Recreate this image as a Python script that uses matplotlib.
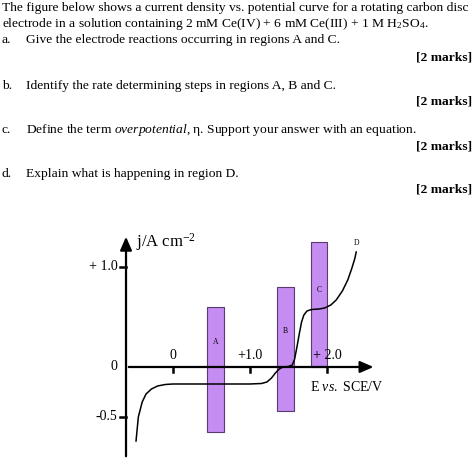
import matplotlib
matplotlib.use("Agg")
import matplotlib.pyplot as plt

plt.rcParams['font.family'] = ['Liberation Serif', 'DejaVu Serif']
plt.rcParams['mathtext.fontset'] = 'custom'
plt.rcParams['mathtext.rm'] = 'Liberation Serif'
plt.rcParams['mathtext.it'] = 'Liberation Serif:italic'
plt.rcParams['mathtext.bf'] = 'Liberation Serif:bold'

curve_E = [-0.48,-0.45,-0.40,-0.35,-0.28,-0.2,-0.1,0,0.5,1.0,1.15,1.22,1.28,1.33,1.38,1.43,1.5,1.55,1.58,1.61,1.64,1.67,1.70,1.74,1.80,1.9,1.97,2.05,2.12,2.2,2.27,2.32,2.36,2.38]
curve_j = [-0.74,-0.50,-0.35,-0.27,-0.22,-0.19,-0.175,-0.17,-0.17,-0.17,-0.165,-0.15,-0.11,-0.06,-0.02,0.0,0.005,0.02,0.08,0.2,0.33,0.45,0.52,0.56,0.575,0.58,0.59,0.62,0.67,0.76,0.87,0.98,1.08,1.15]
bar_labels = ['A', 'B', 'C']
bar_left = [0.44, 1.35, 1.79]
bar_right = [0.66, 1.57, 2.00]
bar_bottom = [-0.65, -0.44, 0.0]
bar_top = [0.60, 0.80, 1.25]
bar_label_y = [0.25, 0.36, 0.77]
xticks = [0, 1.0, 2.0]
xticklabels = ['0', '+1.0', '+ 2.0']
yticks = [1.0, -0.5]
yticklabels = ['+ 1.0', '-0.5']

fig = plt.figure(figsize=(4.74, 4.62), dpi=100)

lines = [
    (8, "The figure below shows a current density vs. potential curve for a rotating carbon disc"),
    (24, "electrode in a solution containing 2 mM Ce(IV) + 6 mM Ce(III) + 1 M H$_2$SO$_4$."),
]
def ty(p): return 1 - p / 462
fs = 9.7
for y, t in lines:
    fig.text(0.004, ty(y), t, fontsize=fs, va='center')
items = [
    (40, 'a.', "Give the electrode reactions occurring in regions A and C.", 57),
    (86, 'b.', "Identify the rate determining steps in regions A, B and C.", 101),
    (130, 'c.', "Define the term $\\it{overpotential}$, η. Support your answer with an equation.", 146),
    (174, 'd.', "Explain what is happening in region D.", 190),
]
for y, l, t, my in items:
    fig.text(0.004, ty(y), l, fontsize=fs, va='center')
    fig.text(0.055, ty(y), t, fontsize=fs, va='center')
    fig.text(0.995, ty(my), "[2 marks]", fontsize=fs, va='center', ha='right', fontweight='bold')

ax = fig.add_axes([0.235, 0.0, 0.601, 0.5087])
ax.set_xlim(-0.8, 2.9)
ax.set_ylim(-0.95, 1.4)
ax.axis('off')

for l, r, b, t, lab, ly in zip(bar_left, bar_right, bar_bottom, bar_top, bar_labels, bar_label_y):
    ax.bar((l + r) / 2, t - b, width=r - l, bottom=b, color='#c58cf2', edgecolor='#5a3a70', linewidth=0.8, zorder=1)
    ax.text((l + r) / 2, ly, lab, fontsize=5.5, ha='center', va='center', zorder=3)

ax.plot(curve_E, curve_j, color='black', lw=1.1, zorder=2)
ax.text(2.39, 1.2, 'D', fontsize=5.5, ha='center', va='bottom')

ax.annotate('', xy=(2.64, 0), xytext=(-0.61, 0), arrowprops=dict(arrowstyle='-|>,head_length=0.8,head_width=0.35', color='black', lw=1.6), zorder=4)
ax.annotate('', xy=(-0.61, 1.33), xytext=(-0.61, -0.92), arrowprops=dict(arrowstyle='-|>,head_length=0.8,head_width=0.35', color='black', lw=1.6), zorder=4)

for x, lab in zip(xticks, xticklabels):
    ax.plot([x, x], [0, -0.05], color='black', lw=1.8)
    ax.text(x, 0.05, lab, fontsize=10, ha='center', va='bottom')
for y, lab in zip(yticks, yticklabels):
    ax.plot([-0.61, -0.69], [y, y], color='black', lw=1.8, clip_on=False)
    ax.text(-0.72, y, lab, fontsize=10, ha='right', va='center', clip_on=False)
ax.text(-0.72, 0, '0', fontsize=10, ha='right', va='center')

ax.text(-0.48, 1.25, 'j/A cm$^{-2}$', fontsize=12, ha='left', va='center')
ax.text(1.78, -0.2, 'E $\\it{vs.}$ SCE/V', fontsize=10, ha='left', va='center')

fig.savefig('out.png', dpi=100)
